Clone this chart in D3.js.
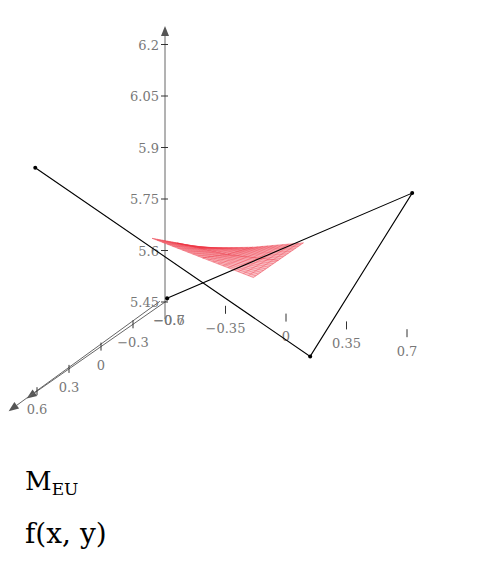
<!DOCTYPE html>
<html>
<head>
<meta charset="utf-8">
<style>
html, body { margin: 0; padding: 0; background: #fff; overflow: hidden; }
svg text { font-family: "DejaVu Serif", "Liberation Serif", serif; }
</style>
</head>
<body>
<script src="https://d3js.org/d3.v7.min.js"></script>
<script>
const width = 497, height = 576;

// axis ticks
const xTicks = [-0.6, -0.3, 0, 0.3, 0.6];
const yTicks = [-0.7, -0.35, 0, 0.35, 0.7];
const zTicks = [5.45, 5.6, 5.75, 5.9, 6.05, 6.2];

// black polyline (x, y, z)
const lineX = [0.6, 0, -0.6, -0.6];
const lineY = [-0.71, 0.51, 0.73, -0.688];
const lineZ = [6.1, 5.5, 5.86, 5.462];

// surface grid f(x, y)
const surfX = [0.45, -0.025, -0.5];
const surfY = [-0.127, 0.018, 0.163];
const surfZ = [
    [5.90, 5.896, 5.89],
    [5.74, 5.76, 5.79],
    [5.58, 5.64, 5.70]
];

// oblique projection built from three linear scales
const O = [165, 302];
const sx = d3.scaleLinear().domain([-0.6, 0.6]).range([0, 4]);
const sy = d3.scaleLinear().domain([-0.7, 0.7]).range([0, 4]);
const sz = d3.scaleLinear().domain([5.45, 6.2]).range([0, 5]);
const X = [-32, 22.3], Y = [60.5, 7.8], Z = [0, -51.5];
const proj = (x, y, z) => {
    const a = sx(x), b = sy(y), c = sz(z);
    return [O[0] + a * X[0] + b * Y[0] + c * Z[0],
            O[1] + a * X[1] + b * Y[1] + c * Z[1]];
};

const svg = d3.select("body").append("svg")
    .attr("width", width).attr("height", height);

const line = d3.line();
const axisG = svg.append("g");

const arrowAxis = (p0, p1) => {
    axisG.append("path").attr("d", line([p0, p1]))
        .attr("fill", "none").attr("stroke", "#666").attr("stroke-width", 1);
    const dx = p1[0] - p0[0], dy = p1[1] - p0[1];
    const L = Math.hypot(dx, dy), ux = dx / L, uy = dy / L;
    const tip = [p1[0] + ux * 10, p1[1] + uy * 10];
    axisG.append("path")
        .attr("d", line([tip, [p1[0] - uy * 4, p1[1] + ux * 4], [p1[0] + uy * 4, p1[1] - ux * 4]]) + "Z")
        .attr("fill", "#555");
};

arrowAxis(proj(-0.64, -0.7, 5.45), proj(0.62, -0.7, 5.45));
arrowAxis(proj(-0.6, -0.73, 5.45), proj(0.79, -0.7, 5.45));
arrowAxis(proj(-0.6, -0.7, 5.4), proj(-0.6, -0.7, 6.225));

const lbl = svg.append("g").attr("fill", "#777").attr("font-size", 13);
const fmt = t => String(t).replace("-", "\u2212");

xTicks.forEach(t => {
    const p = proj(t, -0.7, 5.45);
    if (t > -0.6) axisG.append("line").attr("stroke", "#333")
        .attr("x1", p[0]).attr("x2", p[0]).attr("y1", p[1] - 4).attr("y2", p[1] + 4);
    lbl.append("text").attr("x", p[0] + (t === -0.6 ? 4 : 0)).attr("y", p[1] + 23)
        .attr("text-anchor", "middle").text(fmt(t));
});
yTicks.forEach(t => {
    const p = proj(-0.6, t, 5.45);
    if (t > -0.7) axisG.append("line").attr("stroke", "#333")
        .attr("x1", p[0]).attr("x2", p[0]).attr("y1", p[1] - 4).attr("y2", p[1] + 4);
    lbl.append("text").attr("x", p[0] + (t === -0.7 ? 4 : 0)).attr("y", p[1] + 23)
        .attr("text-anchor", "middle").text(fmt(t));
});
zTicks.forEach(t => {
    const p = proj(-0.6, -0.7, t);
    axisG.append("line").attr("stroke", "#333")
        .attr("x1", p[0] - 4).attr("x2", p[0] + 3).attr("y1", p[1]).attr("y2", p[1]);
    lbl.append("text").attr("x", p[0] - 6).attr("y", p[1] + 5)
        .attr("text-anchor", "end").text(t);
});

// surface
const sg = svg.append("g");
const lerp = (a, b, f) => [a[0] + (b[0] - a[0]) * f, a[1] + (b[1] - a[1]) * f];
for (let i = 0; i < surfX.length - 1; i++) {
    for (let j = 0; j < surfY.length - 1; j++) {
        const p00 = proj(surfX[i], surfY[j], surfZ[i][j]);
        const p10 = proj(surfX[i + 1], surfY[j], surfZ[i + 1][j]);
        const p11 = proj(surfX[i + 1], surfY[j + 1], surfZ[i + 1][j + 1]);
        const p01 = proj(surfX[i], surfY[j + 1], surfZ[i][j + 1]);
        sg.append("path").attr("d", line([p00, p10, p11, p01]) + "Z")
            .attr("fill", "#f9c0c6").attr("stroke", "#e8192c").attr("stroke-width", 0.4);
        // hatch lines for the dense mesh look
        for (let k = 1; k < 10; k++) {
            const f = k / 10;
            sg.append("path").attr("d", line([lerp(p00, p10, f), lerp(p01, p11, f)]))
                .attr("stroke", "#ee3344").attr("stroke-width", 0.35).attr("fill", "none");
            sg.append("path").attr("d", line([lerp(p00, p01, f), lerp(p10, p11, f)]))
                .attr("stroke", "#ee3344").attr("stroke-width", 0.35).attr("fill", "none");
        }
    }
}

// black polyline
const pts = lineX.map((x, i) => proj(x, lineY[i], lineZ[i]));
svg.append("path").attr("d", line(pts)).attr("fill", "none")
    .attr("stroke", "#000").attr("stroke-width", 1.1);
svg.selectAll("circle.pt").data(pts).join("circle")
    .attr("cx", d => d[0]).attr("cy", d => d[1]).attr("r", 2).attr("fill", "#000");

// legend
const leg = svg.append("g").attr("fill", "#000");
const t1 = leg.append("text").attr("x", 25).attr("y", 490).attr("font-size", 26)
    .attr("font-family", "Liberation Serif, serif");
t1.append("tspan").text("M");
t1.append("tspan").attr("font-size", 17).attr("dy", 5).text("EU");
leg.append("text").attr("x", 25).attr("y", 543).attr("font-size", 28)
    .attr("font-family", "Liberation Serif, serif").text("f(x, y)");
</script>
</body>
</html>
